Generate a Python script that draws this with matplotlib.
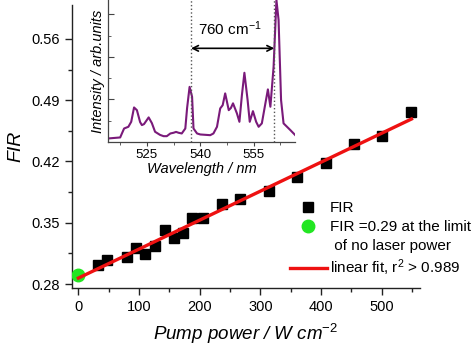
import matplotlib
matplotlib.use('Agg')
import matplotlib.pyplot as plt
from matplotlib.lines import Line2D
import numpy as np

# FIR vs pump power density
power = [33, 47, 80, 95, 110, 126, 142, 158, 173, 188, 205,
         236, 267, 314, 361, 408, 455, 501, 549]
fir = [0.302, 0.308, 0.3105, 0.321, 0.314, 0.324, 0.342, 0.333, 0.338, 0.355, 0.355,
       0.371, 0.377, 0.386, 0.4025, 0.418, 0.4395, 0.449, 0.476]
fir0 = 0.29
r2_limit = 0.989

# emission spectrum for the inset
wavelength = [514.2, 517.5, 518.6, 519.8, 520.6, 521.4, 522.2, 523.1, 523.6, 524.2,
              525.5, 526.4, 527.3, 528.7, 529.7, 530.6, 531.6, 532.5, 533.2, 533.9,
              534.8, 535.8, 536.3, 537.0, 537.7, 538.1, 539.1, 540.0, 542.8, 543.7,
              544.7, 545.6, 546.3, 547.0, 548.0, 548.6, 549.2, 550.3, 551.0, 551.7,
              552.4, 553.3, 553.9, 554.8, 555.7, 556.4, 557.3, 558.3, 559.0, 559.7,
              560.6, 561.4, 562.0, 562.7, 563.4, 565.3, 566.7]
intensity = [0.026, 0.033, 0.096, 0.108, 0.143, 0.244, 0.225, 0.141, 0.12, 0.127,
             0.174, 0.134, 0.073, 0.051, 0.042, 0.042, 0.061, 0.066, 0.072, 0.066,
             0.061, 0.096, 0.24, 0.389, 0.319, 0.096, 0.061, 0.054, 0.049, 0.061,
             0.108, 0.237, 0.26, 0.343, 0.225, 0.24, 0.273, 0.202, 0.143, 0.331,
             0.488, 0.296, 0.143, 0.218, 0.143, 0.108, 0.132, 0.273, 0.371, 0.249,
             0.53, 1.0, 0.86, 0.296, 0.132, 0.085, 0.049]
peak_lines = [537.4, 560.8]
shift_label = '760 cm$^{-1}$'

plt.rcParams['font.family'] = ['Liberation Sans', 'DejaVu Sans']
plt.rcParams['mathtext.fontset'] = 'custom'
plt.rcParams['mathtext.rm'] = 'Liberation Sans'
plt.rcParams['mathtext.it'] = 'Liberation Sans:italic'

fig = plt.figure(figsize=(4.74, 3.45), dpi=100)
ax = fig.add_axes([0.152, 0.165, 0.734, 0.820])

h_fir, = ax.plot(power, fir, 's', color='black', markersize=7, zorder=3)
h_zero, = ax.plot([0], [fir0], 'o', color='#22e622', markersize=9, zorder=4)

slope, intercept = np.polyfit(power, fir, 1)
xfit = np.array([0, max(power)])
h_fit, = ax.plot(xfit, intercept + slope * xfit, color='#ee1111', linewidth=2.4,
                 zorder=5)

ax.set_xlim(-10.4, 563)
ax.set_ylim(0.2754, 0.5985)
ax.set_xticks(np.arange(0, 501, 100))
ax.set_xticks(np.arange(50, 563, 100), minor=True)
ax.set_yticks(np.arange(0.28, 0.561, 0.07))
ax.set_yticks(np.arange(0.315, 0.59, 0.07), minor=True)
ax.yaxis.set_major_formatter(matplotlib.ticker.FormatStrFormatter('%.2f'))
for side in ['top', 'right']:
    ax.spines[side].set_visible(False)
for side in ['left', 'bottom']:
    ax.spines[side].set_linewidth(1.0)
    ax.spines[side].set_color('#222222')
ax.tick_params(which='major', length=5, width=1.0, labelsize=10.5, color='#222222')
ax.tick_params(which='minor', length=3, width=1.0, color='#222222')
ax.set_xlabel('Pump power / W cm$^{-2}$', fontsize=13.5, style='italic', labelpad=6)
ax.set_ylabel('FIR', fontsize=14, style='italic', labelpad=5)

# second line of the green entry gets an empty handle so the dot sits on line one
blank = Line2D([], [], linestyle='none')
handles = [h_fir, h_zero, blank, h_fit]
labels = ['FIR', f'FIR ={fir0:.2f} at the limit', ' of no laser power',
          f'linear fit, r$^2$ > {r2_limit}']
ax.legend(handles, labels, loc='upper left',
          bbox_to_anchor=(290 / 474, 1 - 201 / 345),
          bbox_transform=fig.transFigure, frameon=False, fontsize=11,
          handlelength=2.4, handletextpad=0.2, labelspacing=0.32,
          borderpad=0, borderaxespad=0)

# inset: emission spectrum
ins = fig.add_axes([0.228, 0.588, 0.395, 0.412])
ins.plot(wavelength, intensity, color='#7a1a7a', linewidth=1.5)
for wl in peak_lines:
    ins.axvline(wl, color='#555555', linestyle=':', linewidth=1.0)
ins.annotate('', xy=(peak_lines[0], 0.66), xytext=(peak_lines[1], 0.66),
             arrowprops=dict(arrowstyle='<->', color='black', lw=1.2,
                             shrinkA=0, shrinkB=0))
ins.text(np.mean(peak_lines) - 0.8, 0.73, shift_label, ha='center', va='bottom',
         fontsize=11)
ins.set_xlim(514.1, 566.7)
ins.set_ylim(0, 1.0)
ins.set_xticks([525, 540, 555])
ins.set_xticks([517.5, 532.5, 547.5, 562.5], minor=True)
ins.set_yticks([0.3, 0.6, 0.9])
ins.set_yticks([0.15, 0.45, 0.75], minor=True)
ins.set_yticklabels([])
for side in ['top', 'right']:
    ins.spines[side].set_visible(False)
for side in ['left', 'bottom']:
    ins.spines[side].set_color('#444444')
    ins.spines[side].set_linewidth(0.9)
ins.tick_params(axis='y', which='both', direction='in', color='#444444')
ins.tick_params(axis='y', which='major', length=4)
ins.tick_params(axis='y', which='minor', length=2)
ins.tick_params(axis='x', which='major', length=3, labelsize=9.5, pad=2, color='#444444')
ins.tick_params(axis='x', which='minor', length=2, color='#444444')
ins.set_xlabel('Wavelength / nm', fontsize=10.5, style='italic', labelpad=1)
ins.set_ylabel('Intensity / arb.units', fontsize=10.5, style='italic', labelpad=-1)
ins.patch.set_alpha(0)

fig.savefig('out.png', dpi=100, facecolor='white')
